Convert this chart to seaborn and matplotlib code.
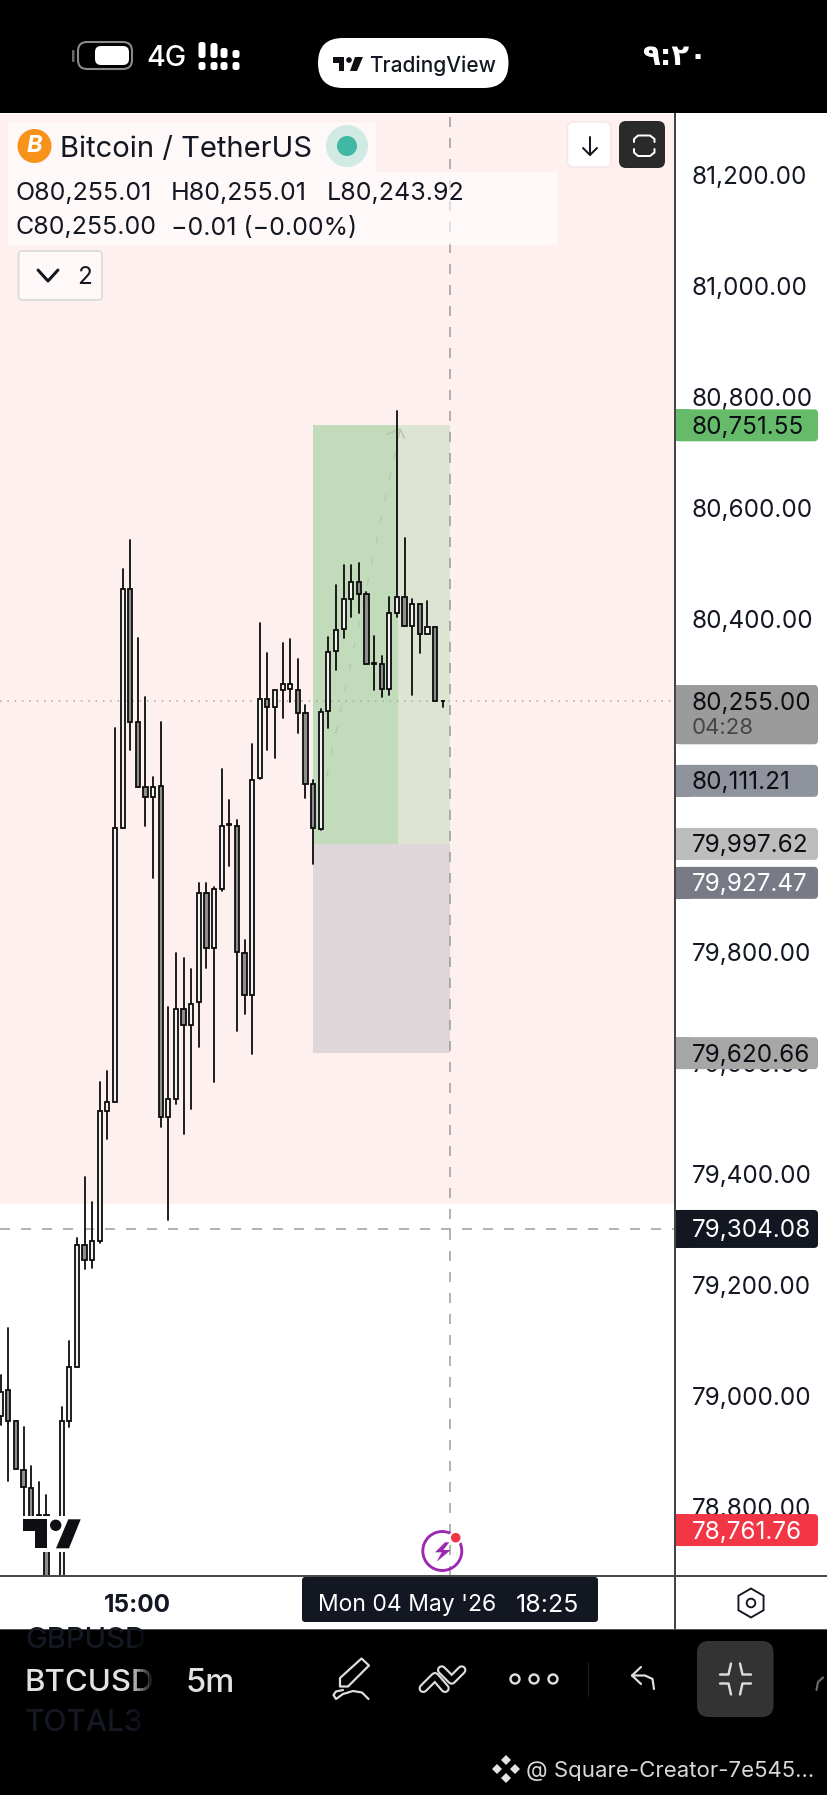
#!/usr/bin/env python
# BTC/USDT 5m chart, phone screenshot of TradingView

import numpy as np
import pandas as pd
import matplotlib.pyplot as plt
import seaborn as sns
from matplotlib.patches import FancyBboxPatch, Rectangle, Circle, Polygon, RegularPolygon
from matplotlib.transforms import ScaledTranslation

# Data
bars = list(range(-18, 41))   # bars counted from the 15:00 candle
opens = [78967, 79014, 78958, 78870, 78837, 78789, 78789, 78600, 78636, 78959, 79056, 79275, 79248, 79283, 79517,
         79533, 80027, 80456, 80217, 80100, 80082, 80102, 79505, 79539, 79700, 79671, 79712, 79909, 79811, 79916,
         80033, 80030, 79802, 79725, 80117, 80259, 80245, 80275, 80276, 80275, 80233, 80105, 80024, 80237, 80345,
         80384, 80439, 80470, 80447, 80323, 80321, 80276, 80413, 80442, 80391, 80429, 80376, 80388, 80255.01]
highs = [79041, 79125, 78958, 78948, 78878, 78848, 78825, 78660, 78983, 79103, 79288, 79398, 79353, 79568, 79589,
         80206, 80493, 80545, 80368, 80262, 80119, 80217, 79704, 79801, 79792, 79772, 79927, 79927, 79920, 80132,
         80077, 80041, 79825, 80177, 80395, 80341, 80274, 80360, 80366, 80330, 80248, 80113, 80240, 80370, 80464,
         80500, 80500, 80504, 80452, 80372, 80336, 80442, 80777, 80548, 80438, 80429, 80436, 80388, 80255.01]
lows = [78951, 78851, 78871, 78783, 78776, 78782, 78636, 78590, 78630, 78948, 79056, 79232, 79233, 79278, 79466,
        79533, 80027, 80167, 80101, 80029, 79936, 79488, 79321, 79529, 79476, 79520, 79631, 79774, 79568, 79913,
        79958, 79661, 79692, 79620, 80114, 80167, 80153, 80224, 80254, 80197, 80081, 79961, 80023, 80206, 80310,
        80368, 80407, 80413, 80322, 80275, 80263, 80266, 80407, 80391, 80265, 80342, 80376, 80255, 80243.92]
closes = [79010, 78959, 78871, 78839, 78776, 78782, 78636, 78640, 78958, 79055, 79275, 79248, 79283, 79517, 79533,
          80026, 80456, 80217, 80101, 80082, 80101, 79505, 79538, 79700, 79671, 79710, 79909, 79811, 79916, 80029,
          80031, 79803, 79725, 80113, 80259, 80245, 80274, 80285, 80285, 80233, 80105, 80026, 80236, 80343, 80383,
          80439, 80470, 80448, 80322, 80321, 80276, 80413, 80443, 80391, 80429, 80376, 80388, 80255, 80255.00]

price_ticks = [81200, 81000, 80800, 80600, 80400, 80200, 80000, 79800, 79600, 79400, 79200, 79000, 78800]
tag_prices = [80751.55, 80111.21, 79997.62, 79927.47, 79620.66, 79304.08, 78761.76]
tp_price = 80751.55
entry_price = 79997.62
sl_price = 79620.66
last_price = 80255.00
cross_price = 79304.08
pos_start, pos_split, pos_end = 23, 34.1, 41
pink_floor = 79349

W, H = 828, 1795
px = 0.72  # one pixel in points at dpi 100

# tag fill, text colour, half height
tag_styles = [("#66bb6a", "#0c0e14", 16), ("#8f939c", "#0c0e14", 16), ("#bdbdbd", "#0c0e14", 16), ("#787b86", "#ffffff", 16),
              ("#a6a6a6", "#0c0e14", 16), ("#131722", "#ffffff", 19), ("#f23645", "#ffffff", 16)]

sns.set_theme(style="white")
plt.rcParams['font.family'] = ['Inter', 'DejaVu Sans']

fig = plt.figure(figsize=(W / 100, H / 100), dpi=100, facecolor="white")
ax = fig.add_axes([0, (H - 1576) / H, 675 / W, (1576 - 114) / H], facecolor="white")
ax.set_xlim(-18.09, 70.49)
ax.set_ylim(78679, 81312.3)

# Background and position tool
ax.axhspan(pink_floor, 81400, color="#fff0f0", lw=0, zorder=0)
ax.add_patch(Rectangle((pos_start, entry_price), pos_split - pos_start, tp_price - entry_price, fc="#c2dbbb", lw=0, zorder=1))
ax.add_patch(Rectangle((pos_split, entry_price), pos_end - pos_split, tp_price - entry_price, fc="#dde4d2", lw=0, zorder=1))
ax.add_patch(Rectangle((pos_start, sl_price), pos_end - pos_start, entry_price - sl_price, fc="#ded6d8", lw=0, zorder=1))
ax.plot([24.8, 34.4], [80120, 80743], color="#b4c6ac", lw=1.2 * px, ls=(0, (6, 12)), zorder=1.5)
ax.plot([32.6, 34.4, 35.0], [80735, 80745, 80728], color="#b4c6ac", lw=1.5 * px, zorder=1.5)

# Crosshair
dash = (0, (6.7, 7.3))
ax.axvline(41, color="#9a9a9a", lw=1.5 * px, ls=dash, zorder=2, dash_capstyle="butt")
ax.axhline(cross_price, color="#9a9a9a", lw=1.5 * px, ls=dash, zorder=2, dash_capstyle="butt")
ax.axhline(last_price, color="#a6a6a6", lw=1.5 * px, ls=(0, (1, 3.9)), zorder=2)

# Candles
df = pd.DataFrame({"bar": bars, "open": opens, "high": highs, "low": lows, "close": closes})
wicks = df.melt(id_vars="bar", value_vars=["low", "high"], value_name="price")
sns.lineplot(data=wicks, x="bar", y="price", units="bar", estimator=None, color="#0c0c0c",
             lw=1.8 * px, ax=ax, zorder=3, legend=False)
up = df["close"] >= df["open"]
body_low = df[["open", "close"]].min(axis=1)
body_size = (df["open"] - df["close"]).abs()
ax.bar(df["bar"][up], body_size[up], bottom=body_low[up], width=0.55, color="#f3f3f3",
       edgecolor="#0c0c0c", linewidth=1.8 * px, zorder=4)
ax.bar(df["bar"][~up], body_size[~up], bottom=body_low[~up], width=0.55, color="#8e8e8e",
       edgecolor="#0c0c0c", linewidth=1.8 * px, zorder=4)

# Axes
ax.grid(False)
for s in ax.spines.values():
    s.set_visible(False)
ax.yaxis.tick_right()
ax.set_yticks(price_ticks, [f"{p:,.2f}" for p in price_ticks])
ax.tick_params(axis="y", length=0, pad=12, labelsize=17.5, labelcolor="#131722")
for t in ax.get_yticklabels():
    t.set_transform(t.get_transform() + ScaledTranslation(0, 1.5 / 100, fig.dpi_scale_trans))
ax.set_xticks([0], ["15:00"], fontweight="bold")
ax.tick_params(axis="x", length=0, pad=13, labelsize=17.5, labelcolor="#131722")
ax.set_xlabel("")
ax.set_ylabel("")

# Everything around the chart, in screen pixels
ov = fig.add_axes([0, 0, 1, 1], zorder=5, facecolor="none")
ov.set_xlim(0, W)
ov.set_ylim(H, 0)
ov.axis("off")


def screen_y(price):
    return H - ax.transData.transform((0, price))[1]


def box(x0, y0, x1, y1, color, r=0, ec="none", lw=0, alpha=None, z=2):
    if r:
        p = FancyBboxPatch((x0, y0), x1 - x0, y1 - y0, boxstyle=f"round,pad=0,rounding_size={r}",
                           fc=color, ec=ec, lw=lw, alpha=alpha, zorder=z)
    else:
        p = Rectangle((x0, y0), x1 - x0, y1 - y0, fc=color, ec=ec, lw=lw, alpha=alpha, zorder=z)
    ov.add_patch(p)


def label(x, y, s, size, color="#131722", ha="left", va="center", **kw):
    # va center sits about 2 px high for these fonts
    ov.text(x, y + 2, s, fontsize=size, color=color, ha=ha, va=va, zorder=6, **kw)


def line(xs, ys, color, w=2.0, z=5, **kw):
    ov.plot(xs, ys, color=color, lw=w * px, zorder=z, solid_capstyle="round", solid_joinstyle="round", **kw)


def tv_logo(x, y, color="#0d0f12"):
    ov.add_patch(Polygon([(x, y), (x + 23.4, y), (x + 23.4, y + 29), (x + 11.7, y + 29), (x + 11.7, y + 11.4), (x, y + 11.4)],
                         fc=color, lw=0, zorder=5))
    ov.add_patch(Circle((x + 32.4, y + 6), 5.7, fc=color, lw=0, zorder=5))
    ov.add_patch(Polygon([(x + 45, y), (x + 57.4, y), (x + 45.7, y + 29), (x + 32.7, y + 29)], fc=color, lw=0, zorder=5))


# Bars at top and bottom
box(0, 0, W, 113, "#000000")
box(0, 1630, W, H, "#000000")
box(674, 113, 676, 1630, "#454545", z=3)
box(0, 1575, W, 1577, "#4a4a4a", z=3)
box(0, 1628.5, W, 1630, "#555555", z=3)

# Status bar
box(78, 42, 132, 69, "#000000", r=9, ec="#8a8a8a", lw=1.5)
box(72, 50, 74.5, 62, "#6a6a6a", r=1)
box(95, 46, 129, 65, "#ffffff", r=6)
label(146, 57, "4G", 20.5, color="#ffffff", fontweight="medium")
for xc, top in [(202, 42), (214, 43), (224, 48), (236, 50)]:
    box(xc - 3.5, top, xc + 3.5, 58, "#ffffff", r=2.5)
    box(xc - 3.5, 62, xc + 3.5, 70, "#ffffff", r=2.5)
label(675, 55, "٩:٢٠", 21, color="#ffffff", ha="center", family=["DejaVu Sans"], fontweight="bold")

# TradingView pill
box(318, 38, 508.5, 88, "#ffffff", r=25)
ov.add_patch(Polygon([(333, 57), (344.5, 57), (344.5, 71), (339, 71), (339, 62.5), (333, 62.5)], fc="#0d0f12", lw=0, zorder=5))
ov.add_patch(Circle((349, 60), 2.8, fc="#0d0f12", lw=0, zorder=5))
ov.add_patch(Polygon([(355, 57), (363, 57), (357, 71), (350, 71)], fc="#0d0f12", lw=0, zorder=5))
label(369, 64, "TradingView", 15, color="#131722", fontweight="medium")

# Legend
box(8, 122, 376, 172, "#ffffff", alpha=0.6)
box(8, 172, 558, 245, "#ffffff", alpha=0.6)
ov.add_patch(Circle((34.5, 146), 17, fc="#f7931a", lw=0, zorder=5))
label(34.5, 144, "B", 17, color="#ffffff", ha="center", fontweight="bold", style="italic")
label(60.5, 147.5, "Bitcoin / TetherUS", 21)
ov.add_patch(Circle((347, 146), 21, fc="#d2eae4", lw=0, zorder=5))
ov.add_patch(Circle((347, 146), 10, fc="#40b8a4", lw=0, zorder=5))
for xt, s in [(16, "O80,255.01"), (170.5, "H80,255.01"), (327, "L80,243.92")]:
    label(xt, 192, s, 18)
for xt, s in [(16, "C80,255.00"), (171, "−0.01 (−0.00%)")]:
    label(xt, 226, s, 18)
box(18.5, 251, 102, 300, "#fff8f8", r=4, ec="#d9d9d9", lw=1.2)
line([38, 48, 58], [270, 281, 270], "#131722", w=3)
label(85, 275.5, "2", 17.5, ha="center")

# Chart buttons
box(567.5, 122, 611, 167, "#ffffff", r=6, ec="#f3e6e6", lw=1)
line([590, 590], [137, 155], "#131722", w=2)
line([583, 590, 597], [148, 155, 148], "#131722", w=2)
box(619, 121, 665, 168, "#2a2a2a", r=7)
line([634, 634, 638, 650, 654.5, 654.5], [142, 139, 135.5, 135.5, 139, 142], "#ffffff", w=2)
line([634, 634, 638, 650, 654.5, 654.5], [149, 152.5, 156, 156, 152.5, 149], "#ffffff", w=2)

# Price tags
y_last = screen_y(last_price)
box(676, y_last - 16, 818, y_last + 43.3, "#9b9b9b", r=4)
box(676, y_last - 16, 690, y_last + 43.3, "#9b9b9b")
label(691.6, y_last, f"{last_price:,.2f}", 17.5, color="#0c0e14")
label(691.6, y_last + 25, "04:28", 16, color="#454545")
for price, (fill, col, hh) in zip(tag_prices, tag_styles):
    yc = screen_y(price)
    box(676, yc - hh, 818, yc + hh, fill, r=4)
    box(676, yc - hh, 690, yc + hh, fill)
    label(691.6, yc, f"{price:,.2f}", 17.5, color=col)

# Logo on the chart
box(20, 1516, 84, 1552, "#ffffff", z=1)
tv_logo(23.3, 1519.3)

# Alert icon
ov.add_patch(Circle((442.3, 1551), 19.5, fc="none", ec="#9c27b0", lw=2.6 * px * 1.1, zorder=5))
ov.add_patch(Polygon([(445, 1542.3), (435, 1552.3), (441.7, 1552.3), (436.7, 1561.7), (450.7, 1550), (443.3, 1550), (449.3, 1542.3)],
                     fc="#9c27b0", lw=0, zorder=5))
ov.add_patch(Circle((455.7, 1537.7), 7, fc="#ffffff", lw=0, zorder=5))
ov.add_patch(Circle((455.7, 1537.7), 4.8, fc="#f23645", lw=0, zorder=5))

# Time axis
box(302, 1577, 598, 1622, "#131722", r=3)
label(318, 1603, "Mon 04 May '26", 16.5, color="#ffffff")
label(515.5, 1603, "18:25", 18, color="#ffffff")
ov.add_patch(RegularPolygon((751, 1603), 6, radius=14.5, orientation=0, fc="none", ec="#131722", lw=1.9 * px, zorder=5))
ov.add_patch(Circle((751, 1603), 4.3, fc="none", ec="#131722", lw=1.9 * px, zorder=5))

# Bottom toolbar
label(25, 1639, "GBPUSD", 21, color="#141822", fontweight="medium")
label(25, 1681, "BTCUSD", 22.5, color="#e2e2e2", fontweight="medium")
label(25, 1721, "TOTAL3", 21.5, color="#141822", fontweight="medium")
label(186, 1681, "5m", 23.5, color="#e2e2e2", fontweight="medium")
for k in range(8):
    box(131 + 3 * k, 1631, 134 + 3 * k, 1745, "#000000", alpha=min(1, 0.12 + k * 0.12), z=7)
box(155, 1631, 180, 1660, "#000000", z=7)

ic = "#dedede"
ov.add_patch(Polygon([(340, 1678), (361.5, 1658.5), (369, 1665.5), (348, 1686.5), (340, 1686.5)], fc="none", ec=ic, lw=2.2 * px, joinstyle="round", zorder=5))
line([343, 336, 333.5, 336, 343, 353, 362, 368.5], [1690, 1691.5, 1695, 1699, 1694, 1691, 1692.5, 1699], ic, w=2.2)
for col, w in [(ic, 9.5), ("#000000", 5.2)]:
    line([423.3, 435, 445], [1688.3, 1676.7, 1688.3], col, w=w, z=5)
    line([441.7, 451.7, 461.7], [1670, 1680, 1670], col, w=w, z=5)
for xc in [515, 534, 553]:
    ov.add_patch(Circle((xc, 1679), 4.5, fc="none", ec=ic, lw=2.4 * px, zorder=5))
box(588.5, 1662, 589.5, 1697, "#1e1e1e")
line([641, 632, 641], [1667, 1675.5, 1684], ic, w=2.2)
line([632, 645, 652.5, 654], [1675.5, 1675.5, 1679, 1689], ic, w=2.2)
box(697, 1641, 773.5, 1717, "#333333", r=12)
for sx, sy in [(-1, -1), (1, -1), (-1, 1), (1, 1)]:
    line([735.5 + sx * 15.5, 735.5 + sx * 7, 735.5 + sx * 4.5], [1679 + sy * 4.5, 1679 + sy * 4.5, 1679 + sy * 15.5], ic, w=2.4)
line([816.5, 818, 823], [1690, 1682, 1677.5], "#6a6a6a", w=2.2)

# Watermark
cx, cy = 506, 1769
for dx, dy in [(0, -9), (-9, 0), (9, 0), (0, 9)]:
    ov.add_patch(Polygon([(cx + dx, cy + dy - 5), (cx + dx + 5, cy + dy), (cx + dx, cy + dy + 5), (cx + dx - 5, cy + dy)],
                         fc="#e4e4e4", lw=0, zorder=5))
label(526.5, 1769, "@ Square-Creator-7e545...", 16, color="#dadada")

plt.savefig("out.png", dpi=100)
plt.close()
